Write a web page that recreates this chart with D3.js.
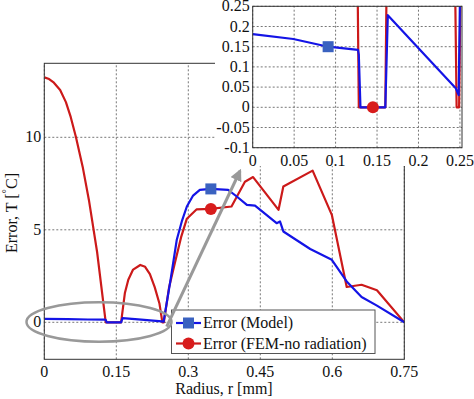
<!DOCTYPE html>
<html>
<head>
<meta charset="utf-8">
<script src="https://cdn.jsdelivr.net/npm/d3@7"></script>
<style>
  html, body { margin: 0; padding: 0; background: #fff; }
  svg { display: block; }
  svg text { font-family: "Liberation Serif", "Times New Roman", "DejaVu Serif", serif; }
</style>
</head>
<body>
<svg width="474" height="399"></svg>
<script>
// radius [mm] and error [°C]
const modelR = [0, 0.049, 0.091, 0.127, 0.128, 0.13, 0.16, 0.163, 0.202, 0.245, 0.2485,
  0.262, 0.276, 0.287, 0.297, 0.31, 0.324, 0.347, 0.383, 0.401, 0.422, 0.439, 0.484, 0.491, 0.498,
  0.554, 0.599, 0.63, 0.661, 0.693, 0.75];
const modelT = [0.181, 0.169, 0.15, 0.142, 0.13, 0, 0, 0.228, 0.142, 0.047, 0.03,
  2.13, 4.46, 5.5, 6.26, 6.85, 7.16, 7.21, 7.16, 6.8, 6.35, 6.31, 5.36, 5.45, 4.91,
  3.96, 3.38, 2.21, 1.37, 0.9, 0];

const femR = [0, 0.01, 0.02, 0.033, 0.045, 0.055, 0.066, 0.08, 0.093, 0.11, 0.128, 0.16, 0.163,
  0.168, 0.175, 0.185, 0.2, 0.21, 0.22, 0.23, 0.24, 0.246, 0.249, 0.26, 0.272, 0.285, 0.297,
  0.317, 0.347, 0.39, 0.418, 0.435, 0.488, 0.498, 0.559, 0.599, 0.63, 0.661, 0.693, 0.75];
const femT = [13.24, 13.15, 12.95, 12.56, 11.9, 11.1, 10, 8.4, 6.6, 3.8, 0, 0, 0.6,
  1.6, 2.3, 2.85, 3.1, 3.0, 2.6, 1.9, 1.0, 0, 0, 1.9, 3.2, 4.6, 5.6,
  6.1, 6.13, 6.26, 7.6, 7.85, 6.08, 7.34, 8.2, 5.81, 1.91, 2.03, 1.73, 0];

const mainMarkers = [[0.347, 7.21], [0.347, 6.13]];
const insetMarkers = [[0.091, 0.15], [0.145, 0]];

const mainXTicks = [0, 0.15, 0.3, 0.45, 0.6, 0.75];
const mainYTicks = [0, 5, 10];
const insetXTicks = [0, 0.05, 0.1, 0.15, 0.2, 0.25];
const insetYTicks = [-0.1, -0.05, 0, 0.05, 0.1, 0.15, 0.2, 0.25];

const legendNames = ["Error (Model)", "Error (FEM-no radiation)"];

const blue = "#1414e6", red = "#cc1a1a";
const sqFill = "#3a62c0", ciFill = "#d81c1c";
const serif = '"Liberation Serif", "Times New Roman", "DejaVu Serif", serif';

const svg = d3.select("svg");

const modelData = modelR.map((r, i) => [r, modelT[i]]);
const femData = femR.map((r, i) => [r, femT[i]]);

function panel(g, x, y, xTicks, yTicks, clipId, markers) {
  const [x0, x1] = x.range(), [y0, y1] = y.range();
  g.append("clipPath").attr("id", clipId)
    .append("rect").attr("x", x0).attr("y", y1).attr("width", x1 - x0).attr("height", y0 - y1);

  // grid
  g.selectAll(".vg").data(xTicks).enter().append("line")
    .attr("x1", d => x(d)).attr("x2", d => x(d)).attr("y1", y0).attr("y2", y1)
    .attr("stroke", "#777").attr("stroke-dasharray", "2,2");
  g.selectAll(".hg").data(yTicks).enter().append("line")
    .attr("x1", x0).attr("x2", x1).attr("y1", d => y(d)).attr("y2", d => y(d))
    .attr("stroke", "#777").attr("stroke-dasharray", "2,2");

  const line = d3.line().x(d => x(d[0])).y(d => y(d[1]));
  const lg = g.append("g").attr("clip-path", `url(#${clipId})`);
  lg.append("path").attr("d", line(femData)).attr("fill", "none")
    .attr("stroke", red).attr("stroke-width", 2.2).attr("stroke-linejoin", "round");
  lg.append("path").attr("d", line(modelData)).attr("fill", "none")
    .attr("stroke", blue).attr("stroke-width", 2.2).attr("stroke-linejoin", "round");

  g.append("rect").attr("x", x(markers[0][0]) - 5.5).attr("y", y(markers[0][1]) - 5.5)
    .attr("width", 11).attr("height", 11).attr("fill", sqFill);
  g.append("circle").attr("cx", x(markers[1][0])).attr("cy", y(markers[1][1])).attr("r", 6)
    .attr("fill", ciFill);

  // frame
  g.append("rect").attr("x", x0).attr("y", y1).attr("width", x1 - x0).attr("height", y0 - y1)
    .attr("fill", "none").attr("stroke", "#333").attr("stroke-width", 1);

  g.selectAll(".xl").data(xTicks).enter().append("text")
    .attr("x", d => x(d)).attr("y", y0 + 18).attr("text-anchor", "middle")
    .attr("font-family", serif).attr("font-size", 16).attr("fill", "#111").text(d => String(d));
  g.selectAll(".yl").data(yTicks).enter().append("text")
    .attr("x", x0 - 3).attr("y", d => y(d) + 5).attr("text-anchor", "end")
    .attr("font-family", serif).attr("font-size", 16).attr("fill", "#111").text(d => String(d));
}

// main panel
const x = d3.scaleLinear([0, 0.75], [44.3, 404.3]);
const y = d3.scaleLinear([-2, 14], [359.3, 63.3]);
const mainG = svg.append("g");
panel(mainG, x, y, mainXTicks, mainYTicks, "clipMain", mainMarkers);

svg.append("text").attr("x", 224).attr("y", 394).attr("text-anchor", "middle")
  .attr("font-family", serif).attr("font-size", 16).attr("fill", "#111").text("Radius, r [mm]");
const yl = svg.append("text").attr("transform", "translate(17,213) rotate(-90)")
  .attr("text-anchor", "middle").attr("font-family", serif).attr("font-size", 16).attr("fill", "#111");
yl.append("tspan").text("Error, T [");
yl.append("tspan").attr("font-size", 11).attr("dy", -7).text("°");
yl.append("tspan").attr("dy", 7).text("C]");

// legend
const leg = svg.append("g");
leg.append("rect").attr("x", 171.5).attr("y", 310).attr("width", 203.5).attr("height", 43.5)
  .attr("fill", "#fff").attr("stroke", "#555");
legendNames.forEach((name, i) => {
  const ly = 323 + i * 20.5;
  leg.append("line").attr("x1", 176).attr("x2", 201).attr("y1", ly).attr("y2", ly)
    .attr("stroke", i ? red : blue).attr("stroke-width", 2.2);
  if (i === 0) {
    leg.append("rect").attr("x", 183).attr("y", ly - 5.5).attr("width", 11).attr("height", 11).attr("fill", sqFill);
  } else {
    leg.append("circle").attr("cx", 188.5).attr("cy", ly).attr("r", 6).attr("fill", ciFill);
  }
  leg.append("text").attr("x", 203).attr("y", ly + 5).attr("font-family", serif)
    .attr("font-size", 16).attr("fill", "#111").text(name);
});

// zoom ellipse
svg.append("ellipse").attr("cx", 99).attr("cy", 322).attr("rx", 72.5).attr("ry", 19.7)
  .attr("fill", "none").attr("stroke", "#999").attr("stroke-width", 2.5);

// inset
svg.append("rect").attr("x", 215).attr("y", 0).attr("width", 259).attr("height", 166).attr("fill", "#fff");
const xi = d3.scaleLinear([0, 0.2525], [252.7, 462]);
const yi = d3.scaleLinear([-0.1, 0.25], [147.7, 6.3]);
const insetG = svg.append("g");
panel(insetG, xi, yi, insetXTicks, insetYTicks, "clipInset", insetMarkers);

// arrow
const defs = svg.append("defs");
defs.append("marker").attr("id", "ah").attr("viewBox", "0 0 10 10").attr("refX", 8).attr("refY", 5)
  .attr("markerWidth", 4).attr("markerHeight", 4).attr("orient", "auto")
  .append("path").attr("d", "M0,0L10,5L0,10z").attr("fill", "#999");
svg.append("line").attr("x1", 166.7).attr("y1", 326.7).attr("x2", 240).attr("y2", 171)
  .attr("stroke", "#999").attr("stroke-width", 3).attr("marker-end", "url(#ah)");
</script>
</body>
</html>
